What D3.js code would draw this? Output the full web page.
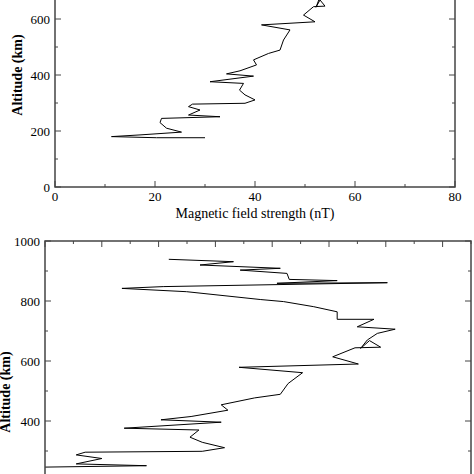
<!DOCTYPE html><html><head><meta charset="utf-8">
<script src="https://cdn.jsdelivr.net/npm/d3@7"></script>
<style>body{margin:0;background:#fff}text{font-family:"Liberation Serif",serif;fill:#000}</style></head>
<body><svg id="c" width="474" height="474"></svg><script>
const fieldNT=[30,20.3,11.3,17,25.3,22.3,21,21.3,33,26.7,29,26.7,27.5,38,40,38,36.9,37.7,31,39.7,34.3,37,40.3,39.7,42.7,45,45.7,47,41.3,52,49.7,51.7,54,53,52.2,52.8,53.7,55.3,51.9,53.4,50.1,50.1,48,45.3,43.2,36.6,30.8,34.5,54.6,44.7,50.1,45.8,45.6,41.4,45,37.8,40.8,35];
const altKm=[176,176,180,186,196,210,230,245,251,257,275,287,296,299,311,329,346,370,376,396,404,415,436,454,477,489,525,561,579,590,614,644,646,668,642,670,692,706,714,739,739,764,781,798,805,831,842,848,861,859,868,872,892,903,909,920,931,939];
const topXTicks=[0,20,40,60,80], topYTicks=[0,200,400,600];
const botYTicks=[400,600,800,1000];
const svg=d3.select("#c");
const pts=fieldNT.map((v,i)=>[v,altKm[i]]);
function panel(x0,x1,y0,y1,xs,ys,xMinor,yMinor){
  const g=svg.append("g");
  const clip="cl"+Math.random().toString(36).slice(2);
  g.append("clipPath").attr("id",clip).append("rect").attr("x",x0).attr("y",y1).attr("width",x1-x0).attr("height",y0-y1);
  g.append("path").datum(pts).attr("clip-path",`url(#${clip})`).attr("fill","none").attr("stroke","#000").attr("stroke-width",1)
   .attr("d",d3.line().x(d=>xs(d[0])).y(d=>ys(d[1])));
  g.append("rect").attr("x",x0).attr("y",y1).attr("width",x1-x0).attr("height",y0-y1).attr("fill","none").attr("stroke","#444").attr("stroke-width",1.5);
  xMinor.forEach((t,i)=>{const L=i%2?3:6,x=xs(t);
    g.append("line").attr("x1",x).attr("x2",x).attr("y1",y0).attr("y2",y0-L).attr("stroke","#444");
    g.append("line").attr("x1",x).attr("x2",x).attr("y1",y1).attr("y2",y1+L).attr("stroke","#444");});
  yMinor.forEach((t,i)=>{const L=i%2?3:6,y=ys(t);
    g.append("line").attr("y1",y).attr("y2",y).attr("x1",x0).attr("x2",x0+L).attr("stroke","#444");
    g.append("line").attr("y1",y).attr("y2",y).attr("x1",x1).attr("x2",x1-L).attr("stroke","#444");});
  return g;
}
const xT=d3.scaleLinear().domain([0,80]).range([55,455]);
const yT=d3.scaleLinear().domain([0,800]).range([187,-37]);
const gT=panel(55,455,187,-37,xT,yT,d3.range(0,81,10),d3.range(0,801,100));
topXTicks.forEach(t=>gT.append("text").attr("x",xT(t)).attr("y",201).attr("text-anchor","middle").attr("font-size",13).text(t));
topYTicks.forEach(t=>gT.append("text").attr("x",50).attr("y",yT(t)+5).attr("text-anchor","end").attr("font-size",13).text(t));
gT.append("text").attr("x",255).attr("y",218).attr("text-anchor","middle").attr("font-size",14).text("Magnetic field strength (nT)");
gT.append("text").attr("transform",`translate(22,${yT(400)}) rotate(-90)`).attr("text-anchor","middle").attr("font-size",14).attr("font-weight","bold").text("Altitude (km)");
const xB=d3.scaleLinear().domain([23.9,62.1]).range([45,471]);
const yB=d3.scaleLinear().domain([0,1000]).range([541,241]);
const bxTicks=d3.range(16).map(i=>23.9+i*38.2/15);
const gB=panel(45,471,541,241,xB,yB,bxTicks,d3.range(0,1001,100));
botYTicks.forEach(t=>gB.append("text").attr("x",40).attr("y",yB(t)+5).attr("text-anchor","end").attr("font-size",13).text(t));
gB.append("text").attr("transform",`translate(10,392) rotate(-90)`).attr("text-anchor","middle").attr("font-size",14).attr("font-weight","bold").text("Altitude (km)");
</script></body></html>
